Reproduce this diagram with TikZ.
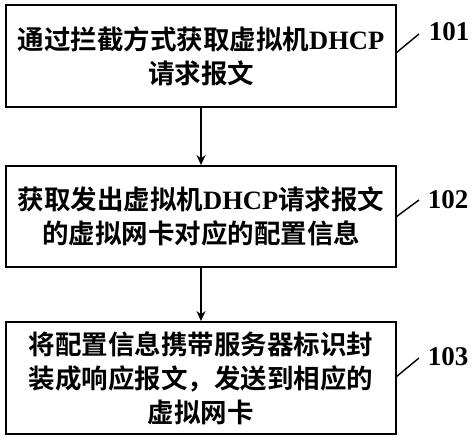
\documentclass[tikz,border=0pt]{standalone}
\usepackage{fontspec}
\newfontfamily\cjk{Noto Sans CJK SC}[BoldFont={* Bold}]
\newfontfamily\lat{Liberation Serif}
\usetikzlibrary{arrows.meta}
\begin{document}
\begin{tikzpicture}[x=1pt,y=-1pt,
  stepbox/.style={draw,line width=1.8pt,minimum width=390pt,inner sep=0pt,align=center,
    font=\cjk\bfseries\fontsize{26.5}{34}\selectfont},
  flow/.style={line width=1.8pt,-{Stealth[length=10pt,width=9pt]}},
  lead/.style={line width=1.4pt},
  num/.style={font=\lat\bfseries\fontsize{27}{30}\selectfont,inner sep=0pt}]
\useasboundingbox (0,0) rectangle (474,441);
\node[stepbox,minimum height=102pt] (b1) at (201,56) {通过拦截方式获取虚拟机{\lat\bfseries DHCP}\\请求报文};
\node[stepbox,minimum height=101pt] (b2) at (201,216.5) {获取发出虚拟机{\lat\bfseries DHCP}请求报文\\的虚拟网卡对应的配置信息};
\node[stepbox,minimum height=112pt] (b3) at (201,378) {将配置信息携带服务器标识封\\装成响应报文，发送到相应的\\虚拟网卡};
\draw[flow] (b1.south) -- (b2.north);
\draw[flow] (b2.south) -- (b3.north);
\node[num] (n1) at (449,32) {101};
\node[num] (n2) at (448,200) {102};
\node[num] (n3) at (448,357) {103};
\coordinate (s1) at (396,53); \coordinate (e1) at (419,34);
\coordinate (s2) at (396,217); \coordinate (e2) at (419,200);
\coordinate (s3) at (396,377); \coordinate (e3) at (419,358);
\draw[lead] (s1) -- (e1);
\draw[lead] (s2) -- (e2);
\draw[lead] (s3) -- (e3);
\end{tikzpicture}
\end{document}
